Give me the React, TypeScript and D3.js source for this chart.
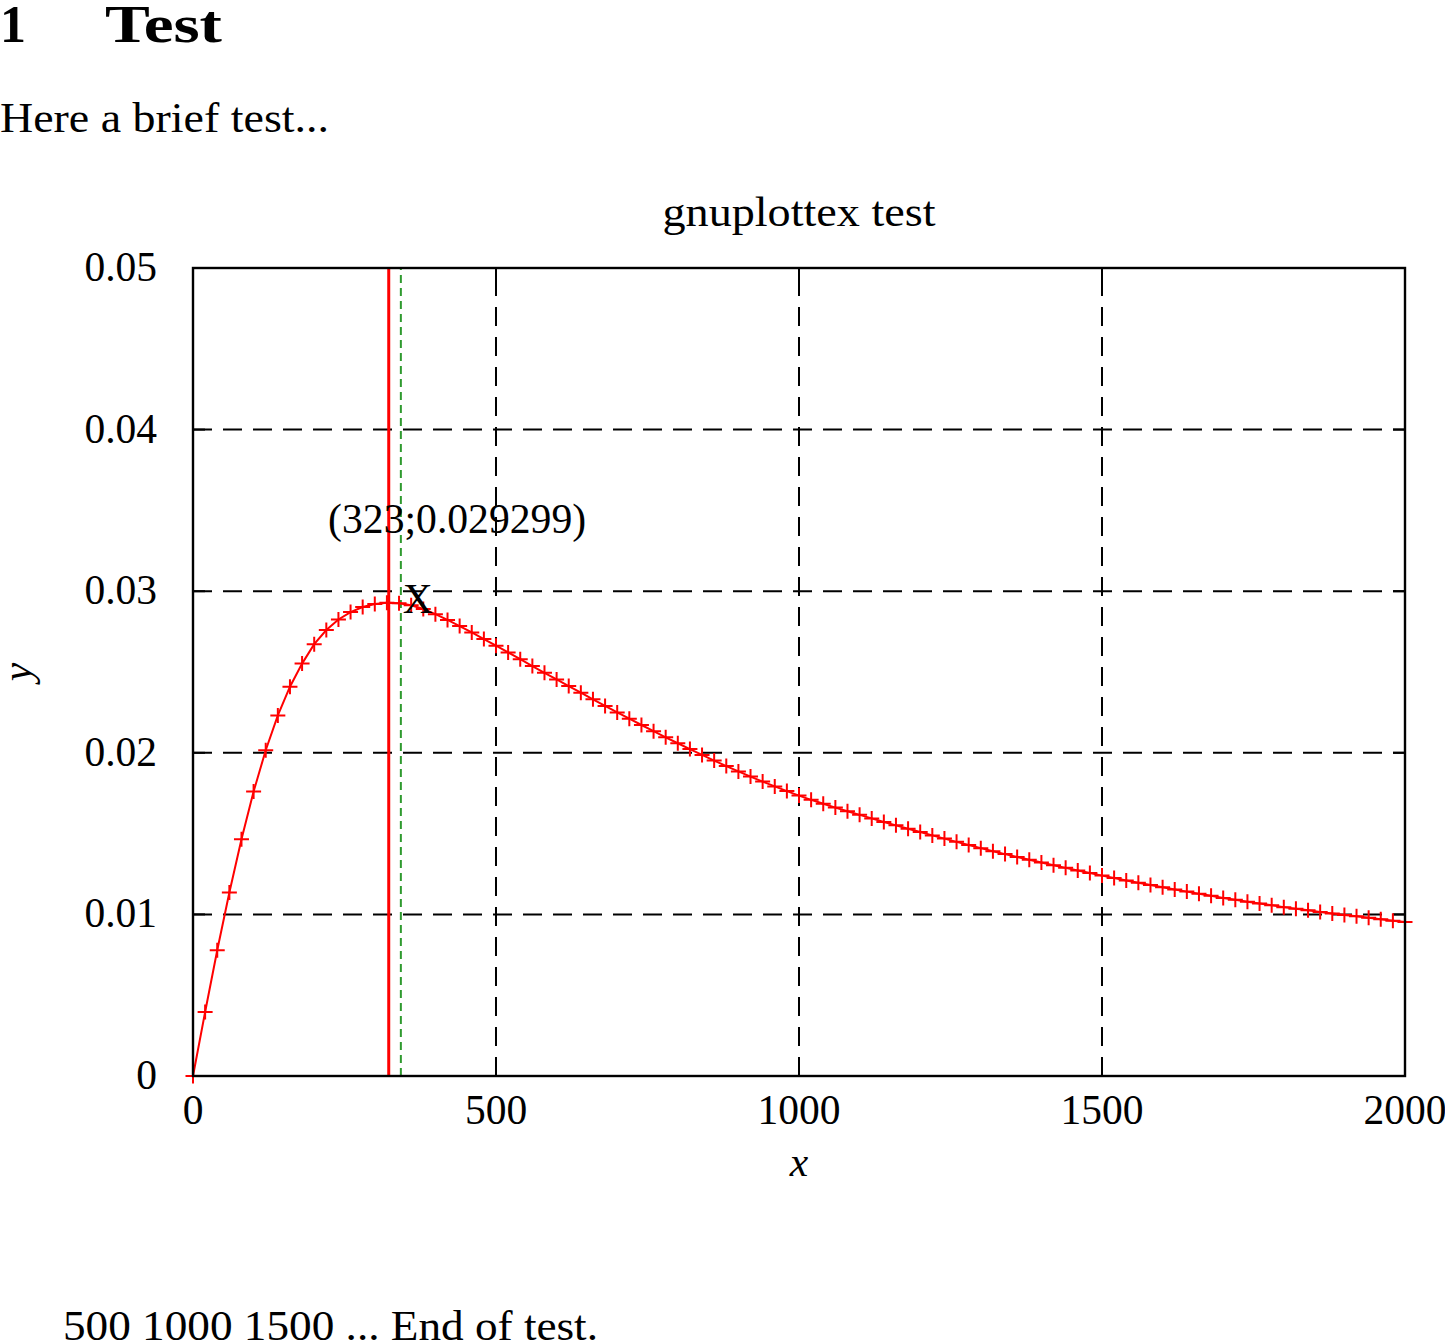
import React from 'react';
import * as d3 from 'd3';

const sampleX = [
  0, 20, 40, 60, 80, 100, 120, 140, 160, 180, 200,
  220, 240, 260, 280, 300, 320, 340, 360, 380, 400,
  420, 440, 460, 480, 500, 520, 540, 560, 580, 600,
  620, 640, 660, 680, 700, 720, 740, 760, 780, 800,
  820, 840, 860, 880, 900, 920, 940, 960, 980, 1000,
  1020, 1040, 1060, 1080, 1100, 1120, 1140, 1160, 1180, 1200,
  1220, 1240, 1260, 1280, 1300, 1320, 1340, 1360, 1380, 1400,
  1420, 1440, 1460, 1480, 1500, 1520, 1540, 1560, 1580, 1600,
  1620, 1640, 1660, 1680, 1700, 1720, 1740, 1760, 1780, 1800,
  1820, 1840, 1860, 1880, 1900, 1920, 1940, 1960, 1980, 2000,
];
const sampleY = [
  0, 0.00396, 0.00778, 0.01136, 0.01465, 0.0176, 0.02016, 0.02231, 0.02409, 0.02552, 0.02672,
  0.0276, 0.02825, 0.02871, 0.02902, 0.02921, 0.02929, 0.02926, 0.02913, 0.0289, 0.02858,
  0.02822, 0.02784, 0.02745, 0.02704, 0.02663, 0.02621, 0.02579, 0.02537, 0.02495, 0.02454,
  0.02413, 0.02372, 0.02331, 0.0229, 0.0225, 0.02211, 0.02172, 0.02134, 0.02096, 0.02059,
  0.02023, 0.01987, 0.01952, 0.01918, 0.01885, 0.01853, 0.01822, 0.01792, 0.01763, 0.01735,
  0.01709, 0.01685, 0.01661, 0.01638, 0.01616, 0.01594, 0.01572, 0.01551, 0.0153, 0.0151,
  0.01489, 0.01469, 0.01449, 0.01429, 0.0141, 0.01391, 0.01373, 0.01355, 0.01338, 0.01321,
  0.01304, 0.01288, 0.01272, 0.01256, 0.0124, 0.01225, 0.0121, 0.01196, 0.01182, 0.01168,
  0.01154, 0.01141, 0.01128, 0.01115, 0.01102, 0.0109, 0.01078, 0.01067, 0.01056, 0.01045,
  0.01035, 0.01025, 0.01015, 0.01006, 0.00997, 0.00988, 0.00979, 0.0097, 0.00961, 0.00953,
];

const xTicks = [0, 500, 1000, 1500, 2000];
const yTicks = [0, 0.01, 0.02, 0.03, 0.04, 0.05];
const yTickLabels = ['0', '0.01', '0.02', '0.03', '0.04', '0.05'];

const peakX = 323;
const peakY = 0.029299;
const markerLineX = 343;
const peakLabel = '(323;0.029299)';
const peakLabelPos = [223, 0.0336];
const crossLabelPos = [371, 0.02865];

const W = 1445;
const H = 1343;
const FONT = '"Liberation Serif", "Times New Roman", serif';

export default function App() {
  const x = d3.scaleLinear().domain([0, 2000]).range([193, 1405]);
  const y = d3.scaleLinear().domain([0, 0.05]).range([1076, 268]);
  const [x0, x1] = x.range();
  const [y0, y1] = y.range();

  const pts = sampleX.map((v, i) => [v, sampleY[i]] as [number, number]);
  const line = d3.line<[number, number]>()
    .x((d) => x(d[0]))
    .y((d) => y(d[1]));

  const tick = 12;
  const fs = 41.5;

  return (
    <svg
      width={W}
      height={H}
      style={{ position: 'absolute', left: 0, top: 0, display: 'block', background: '#fff' }}
      fontFamily={FONT}
    >
      {/* page text */}
      <text x={0} y={42} fontSize={52} fontWeight="bold">1</text>
      <text x={105} y={42} fontSize={52} fontWeight="bold" textLength={117} lengthAdjust="spacingAndGlyphs">Test</text>
      <text x={0} y={132} fontSize={fs} textLength={329} lengthAdjust="spacingAndGlyphs">Here a brief test...</text>

      {/* title */}
      <text x={(x0 + x1) / 2} y={226} fontSize={fs} textAnchor="middle" textLength={273} lengthAdjust="spacingAndGlyphs">
        gnuplottex test
      </text>

      {/* grid */}
      <g stroke="#000" strokeWidth={2} fill="none">
        {yTicks.slice(1, -1).map((t) => (
          <line key={'gy' + t} x1={x0} x2={x1} y1={y(t)} y2={y(t)} strokeDasharray="19 11" />
        ))}
        {xTicks.slice(1, -1).map((t) => (
          <line key={'gx' + t} x1={x(t)} x2={x(t)} y1={y0} y2={y1} strokeDasharray="19 11" />
        ))}
        {/* ticks, mirrored */}
        {yTicks.map((t) => (
          <g key={'ty' + t}>
            <line x1={x0} x2={x0 + tick} y1={y(t)} y2={y(t)} />
            <line x1={x1} x2={x1 - tick} y1={y(t)} y2={y(t)} />
          </g>
        ))}
        {xTicks.map((t) => (
          <g key={'tx' + t}>
            <line x1={x(t)} x2={x(t)} y1={y0} y2={y0 - tick} />
            <line x1={x(t)} x2={x(t)} y1={y1} y2={y1 + tick} />
          </g>
        ))}
      </g>

      {/* vertical markers */}
      <line x1={x(markerLineX)} x2={x(markerLineX)} y1={y0} y2={y1} stroke="#2f9a2f" strokeWidth={2} strokeDasharray="8 5" />
      <line x1={x(peakX)} x2={x(peakX)} y1={y0} y2={y1} stroke="#ff0000" strokeWidth={3} />

      {/* curve */}
      <path d={line(pts) || ''} fill="none" stroke="#ff0000" strokeWidth={2} />
      <g stroke="#ff0000" strokeWidth={2}>
        {pts.map((d, i) => (
          <path key={i} transform={`translate(${x(d[0])},${y(d[1])})`} d="M-7.5,0H7.5M0,-7.5V7.5" />
        ))}
      </g>

      {/* border */}
      <rect x={x0} y={y1} width={x1 - x0} height={y0 - y1} fill="none" stroke="#000" strokeWidth={2.4} />

      {/* tick labels */}
      <g fontSize={fs}>
        {yTicks.map((t, i) => (
          <text key={'ly' + t} x={157} y={y(t) + 13} textAnchor="end">{yTickLabels[i]}</text>
        ))}
        {xTicks.map((t) => (
          <text key={'lx' + t} x={x(t)} y={1124} textAnchor="middle">{t}</text>
        ))}
      </g>

      {/* axis labels */}
      <text x={(x0 + x1) / 2} y={1176} fontSize={fs} fontStyle="italic" textAnchor="middle">x</text>
      <text transform={`translate(31,672) rotate(-90)`} fontSize={fs} fontStyle="italic" textAnchor="middle">y</text>

      {/* annotations */}
      <text x={x(peakLabelPos[0])} y={y(peakLabelPos[1])} fontSize={fs} textLength={258} lengthAdjust="spacingAndGlyphs">
        {peakLabel}
      </text>
      <text x={x(crossLabelPos[0])} y={y(crossLabelPos[1])} fontSize={fs} textAnchor="middle">X</text>

      {/* trailing page text */}
      <text x={63} y={1340} fontSize={fs} textLength={535} lengthAdjust="spacingAndGlyphs">
        500 1000 1500 ... End of test.
      </text>
    </svg>
  );
}
